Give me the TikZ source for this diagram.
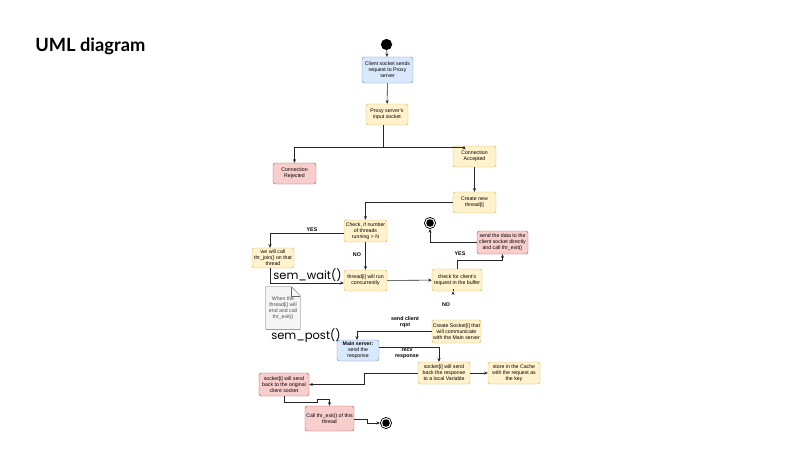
\documentclass[tikz,border=0pt]{standalone}
\usepackage{fontspec}
\setmainfont{Liberation Sans}
\newfontfamily\titlefont{Lato}
\newfontfamily\handfont{Poppins}
\usetikzlibrary{arrows.meta,calc,backgrounds}

\definecolor{blueFill}{HTML}{DAE8FC}
\definecolor{blueLine}{HTML}{6C8EBF}
\definecolor{yellowFill}{HTML}{FFF2CC}
\definecolor{yellowLine}{HTML}{D6B656}
\definecolor{redFill}{HTML}{F8CECC}
\definecolor{redLine}{HTML}{B85450}
\definecolor{noteFill}{HTML}{F5F5F5}
\definecolor{noteLine}{HTML}{666666}

\begin{document}
\begin{tikzpicture}[x=0.025cm, y=-0.025cm,
            every node/.style={font=\fontsize{3.7}{4.3}\selectfont, align=center, inner sep=0pt},
            size/.style 2 args={minimum width=#1*0.025cm, minimum height=#2*0.025cm},
            act/.style={draw=yellowLine, fill=yellowFill, rounded corners=0.06cm, line width=0.3pt},
            actblue/.style={act, draw=blueLine, fill=blueFill},
            actred/.style={act, draw=redLine, fill=redFill},
            flow/.style={-{Stealth[length=2.6pt,width=2.2pt]}, line width=0.4pt, draw=black!85},
            guard/.style={font=\fontsize{3.8}{4.3}\selectfont\bfseries},
            initstate/.style={circle, fill=black, minimum size=0.28cm},
            finalstate/.style={circle, draw=black, fill=white, line width=0.5pt, minimum size=0.28cm,
                path picture={\fill[black] (path picture bounding box.center) circle (0.095cm);}},
            hand/.style={font=\handfont\fontsize{8.2}{8.5}\selectfont}]
            \useasboundingbox (0,0) rectangle (800,450);

            \node[font=\titlefont\bfseries\fontsize{13}{13}\selectfont, anchor=base west] (title) at (35,51) {UML diagram};

            % activities
            \node[initstate] (start) at (386.5,44.5) {};
            \node[actblue, size={51}{26}] (client) at (387.5,70) {Client socket sends\\request to Proxy\\server};
            \node[act, size={42}{21}] (proxy) at (387,114.5) {Proxy server's\\input socket};
            \node[actred, size={43}{21}] (rejected) at (294.5,173.5) {Connection\\Rejected};
            \node[act, size={43}{21}] (accepted) at (474.5,156.5) {Connection\\Accepted};
            \node[act, size={43}{21}] (create) at (474.5,202.5) {Create new\\thread[i]};
            \node[act, size={43}{22}] (check) at (365.5,231) {Check, if number\\of threads\\running > N};
            \node[act, size={42}{20}] (join) at (273,258) {we will call\\thr\_join() on that\\thread};
            \node[act, size={43}{21}] (run) at (365.5,280.5) {thread[i] will run\\concurrently};
            \node[act, size={50}{22}] (buffer) at (457,280) {check for client's\\request in the buffer};
            \node[actred, size={51}{23}] (senddata) at (502.5,242.5) {send the data to the\\client socket directly\\and call thr\_exit()};
            \node[finalstate] (end1) at (430,223) {};
            \node[text=black!70, size={34}{42}] (note) at (283,308) {When the\\thread[i] will\\end and call\\thr\_exit()};
            \node[act, size={49}{23}] (socketc) at (456.5,331.5) {Create Socket[i] that\\will communicate\\with the Main server};
            \node[actblue, size={42}{21}] (mainsrv) at (358,350.5) {\textbf{Main server:}\\send the\\response};
            \node[act, size={52}{22}] (sockback) at (444,373) {socket[i] will send\\back the response\\to a local Variable};
            \node[act, size={52}{22}] (cache) at (514,373) {store in the Cache\\with the request as\\the key};
            \node[actred, size={50}{23}] (clientback) at (284,384.5) {socket[i] will send\\back to the original\\client socket};
            \node[actred, size={49}{25}] (callexit) at (329.5,418.5) {Call thr\_exit() of this\\thread};
            \node[finalstate] (end2) at (386,423) {};

            \begin{scope}[on background layer]
                \draw[fill=noteFill, draw=noteLine, line width=0.3pt] (note.south west) -- (note.north west)
                -- ($(note.north east)+(-9,0)$) -- ($(note.north east)+(0,9)$) -- (note.south east) -- cycle;
                \draw[draw=noteLine, line width=0.3pt] ($(note.north east)+(-9,0)$) -- ++(0,9) -- ++(9,0);
            \end{scope}

            % guards and handwritten notes
            \node[guard] (yes1) at (312,230) {YES};
            \node[guard] (no1) at (357,255) {NO};
            \node[guard] (yes2) at (460,254) {YES};
            \node[guard] (no2) at (446,305) {NO};
            \node[guard] (rqst) at (405,322) {send client\\rqst};
            \node[guard] (resp) at (407,354) {recv\\response};
            \node[hand] (semwait) at (307.5,275) {sem\_wait()};
            \node[hand] (sempost) at (306,336) {sem\_post()};

            % flow
            \draw[flow] (start) -- (client);
            \draw[flow] (client) -- (proxy);
            \coordinate (branch) at ($(proxy.south)+(-4,22.5)$);
            \draw[line width=0.4pt, draw=black!85] ($(proxy.south)+(-4,0)$) -- (branch);
            \draw[flow] (branch) -| (rejected);
            \draw[flow] (branch) -| ($(accepted.north)+(-10.5,0)$);
            \draw[flow] (accepted) -- (create);
            \draw[flow] (create) -| (check);
            \draw[flow] ($(check.west)+(0,2)$) -| ($(join.north)+(-3,0)$);
            \draw[flow] (check) -- (run);
            \draw[flow] ($(join.south)+(-3,0)$) |- ($(run.west)+(0,2.5)$);
            \draw[flow] (run) -- (buffer);
            \draw[flow] (buffer.north) -- ++(0,-9) -| (senddata.south);
            \draw[flow] (senddata) -| (end1);
            \draw[flow] ($(buffer.south)+(-4,0)$) -- ($(buffer.south)+(-4,0)$ |- socketc.north);
            \draw[flow] (socketc) -| ($(mainsrv.north)+(-1,0)$);
            \draw[flow] ($(mainsrv.east)+(0,-3.5)$) -| ($(sockback.north)+(-5,0)$);
            \draw[flow] (sockback) -- (cache);
            \draw[flow] (sockback.west) -- ++(-54,0) |- (clientback.east);
            \draw[flow] (clientback.south) -- ++(0,6.5) -- ++(33,0) -- ++(0,-3) -| (callexit.north);
            \draw[flow] ($(callexit.east)+(0,0.5)$) -- ++(13,0) |- (end2.west);
        \end{tikzpicture}
\end{document}
